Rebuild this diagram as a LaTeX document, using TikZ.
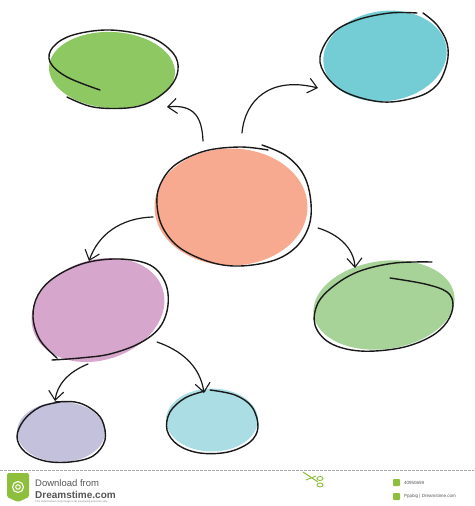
\documentclass[tikz,border=0pt]{standalone}
\usepackage{fontspec}
\setmainfont{Liberation Sans}
\usetikzlibrary{shapes.geometric,arrows.meta}
\definecolor{cgreenA}{HTML}{8DC862}
\definecolor{ccyanA}{HTML}{74CCD5}
\definecolor{csalmon}{HTML}{F8AA91}
\definecolor{cgreenB}{HTML}{A7D398}
\definecolor{cpurple}{HTML}{D6A6CC}
\definecolor{clav}{HTML}{C4C1DC}
\definecolor{ccyanB}{HTML}{ABDEE4}
\definecolor{clogo}{HTML}{8DBE3C}
\definecolor{cgraytxt}{HTML}{555555}
\tikzset{
  blob/.style={ellipse, inner sep=0pt, draw=none},
  sketch/.style={draw=black!90, line width=1.4pt, line cap=round, line join=round},
  arr/.style={draw=black!90, line width=1.2pt, line cap=round, -{Straight Barb[length=9pt,width=15pt,line width=1.1pt]}},
  wmtext/.style={inner sep=0pt, anchor=west, text=cgraytxt}
}
\begin{document}
\begin{tikzpicture}[x=1pt,y=-1pt]
\useasboundingbox (0,0) rectangle (474,506);
\fill[white] (0,0) rectangle (474,506);
% fills
\node[blob, fill=cgreenA, minimum width=126pt, minimum height=76pt, rotate=-3] (g1) at (112,70) {};
\node[blob, fill=ccyanA, minimum width=124pt, minimum height=90pt, rotate=8] (c1) at (385,56) {};
\node[blob, fill=csalmon, minimum width=153pt, minimum height=117pt] (s) at (231,207) {};
\node[blob, fill=cgreenB, minimum width=142pt, minimum height=88pt, rotate=8] (g2) at (384,305) {};
\node[blob, fill=cpurple, minimum width=136pt, minimum height=100pt, rotate=18] (p) at (98,310) {};
\node[blob, fill=clav, minimum width=88pt, minimum height=60pt] (l) at (61,432) {};
\node[blob, fill=ccyanB, minimum width=92pt, minimum height=63pt] (c2) at (212,420) {};
% sketchy outlines
\draw[sketch] plot[smooth, tension=0.6] coordinates {(100,90) (67,77) (50,62) (53,47) (73,35) (110,30) (150,37) (173,53) (178,70) (170,87) (150,102) (127,108) (93,107) (67,97)};
\draw[sketch] plot[smooth, tension=0.6] coordinates {(417,13) (390,13) (357,20) (333,33) (320,57) (327,77) (347,93) (383,102) (417,97) (437,85) (447,63) (447,43) (437,25) (423,13)};
\draw[sketch] plot[smooth, tension=0.6] coordinates {(268,150) (240,147) (205,151) (175,165) (160,185) (157,205) (163,228) (180,248) (210,262) (240,266) (275,260) (298,245) (310,222) (310,195) (302,172) (285,155) (262,145)};
\draw[sketch] plot[smooth, tension=0.6] coordinates {(390,278) (425,284) (447,292) (453,305) (447,322) (430,337) (400,348) (360,351) (330,343) (315,325) (318,303) (335,285) (360,271) (395,263) (432,262)};
\draw[sketch] plot[smooth, tension=0.6] coordinates {(57,358) (40,340) (33,317) (38,295) (55,277) (85,263) (120,259) (150,265) (165,282) (168,305) (160,327) (140,343) (110,354) (80,358) (52,360)};
\draw[sketch] plot[smooth, tension=0.6] coordinates {(60,402) (40,407) (24,420) (17,437) (25,452) (45,461) (70,462) (93,456) (105,440) (102,420) (90,408) (75,402) (55,402)};
\draw[sketch] plot[smooth, tension=0.6] coordinates {(205,391) (185,398) (170,412) (167,430) (178,445) (200,453) (228,452) (250,442) (258,427) (252,407) (235,395) (210,390)};
% arrow end points
\coordinate (a1s) at (203,141); \coordinate (a1e) at (167,107);
\coordinate (a2s) at (242,133); \coordinate (a2e) at (318,88);
\coordinate (a3s) at (153,217); \coordinate (a3e) at (89,261);
\coordinate (a4s) at (318,228); \coordinate (a4e) at (355,268);
\coordinate (a5s) at (157,342); \coordinate (a5e) at (204,393);
\coordinate (a6s) at (88,364); \coordinate (a6e) at (55,401);
% arrows
\draw[arr] (a1s) .. controls (202,118) and (195,104) .. (a1e);
\draw[arr] (a2s) .. controls (245,100) and (270,76) .. (a2e);
\draw[arr] (a3s) .. controls (120,218) and (98,235) .. (a3e);
\draw[arr] (a4s) .. controls (338,234) and (354,248) .. (a4e);
\draw[arr] (a5s) .. controls (180,350) and (200,365) .. (a5e);
\draw[arr] (a6s) .. controls (68,372) and (57,385) .. (a6e);
% watermark bar
\draw[gray!70, line width=0.6pt, dash pattern=on 2.5pt off 1.5pt] (0,470) -- (474,470);
\fill[clogo, rounded corners=1.5pt] (7,473) -- (29,473) -- (29,497) -- (18,502) -- (7,497) -- cycle;
\draw[white, line width=1.1pt] (18,487) circle (5.5pt);
\draw[white, line width=1pt] (18,487) circle (2.3pt);
\node[wmtext, font=\fontsize{9.5}{10}\selectfont] (dl) at (35,483) {Download from};
\node[wmtext, font=\fontsize{10}{11}\selectfont\bfseries] (ds) at (35,494.5) {Dreamstime.com};
\node[wmtext, font=\fontsize{2.6}{3}\selectfont, text=gray] (dw) at (35,501.5) {This watermarked comp image is for previewing purposes only.};
% scissors
\draw[clogo, line width=1pt] (303,472) -- (318,482);
\draw[clogo, line width=1pt] (306,480) -- (316,476);
\draw[clogo, line width=0.9pt] (320,478.5) ellipse (3pt and 2pt);
\draw[clogo, line width=0.9pt] (320,485) ellipse (3pt and 2pt);
% right info
\fill[clogo, rounded corners=0.8pt] (393,479) rectangle (400,486);
\fill[clogo, rounded corners=0.8pt] (393,493) rectangle (400,500);
\node[wmtext, font=\fontsize{4.5}{5}\selectfont] (id) at (404,482.5) {40950659};
\node[wmtext, font=\fontsize{4.5}{5}\selectfont] (au) at (404,496.5) {Pppbig | Dreamstime.com};
\end{tikzpicture}
\end{document}
